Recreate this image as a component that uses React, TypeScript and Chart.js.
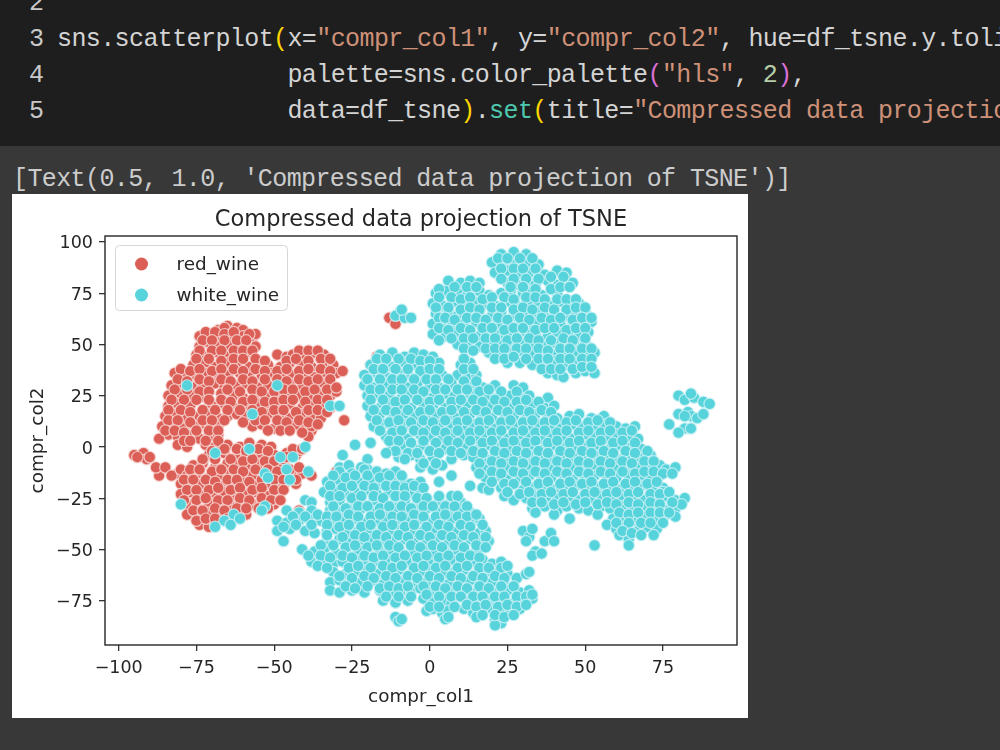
import React, { useEffect, useRef } from "react";
import { Chart, registerables } from "chart.js";

Chart.register(...registerables);

const chartTitle = "Compressed data projection of TSNE";
const xAxisLabel = "compr_col1";
const yAxisLabel = "compr_col2";
const seriesNames = ["red_wine", "white_wine"];
const xTicks = [-100, -75, -50, -25, 0, 25, 50, 75];
const yTicks = [-75, -50, -25, 0, 25, 50, 75, 100];

// x, y pairs
const redWinePairs = [
  -68,57,-65,59,-62,58,-66,58,-60,57,
  -74,54,-70,55,-67,53,-64,55,-60,54,-57,53,-56,55,
  -74,49,-71,51,-68,49,-65,50,-61,49,-58,51,-56,49,
  -75,45,-72,44,-68,46,-65,44,-61,45,-59,46,-49,45,-46,44,-44,45,-40,44,-37,46,-34,45,
  -76,40,-72,41,-69,39,-65,41,-62,40,-58,39,-55,41,-52,40,-48,39,-45,41,-41,40,-38,39,-34,41,-31,40,
  -82,36,-79,34,-75,35,-72,36,-68,34,-65,35,-61,36,-58,34,-54,35,-51,36,-47,34,-44,35,-40,36,-37,34,-33,35,-30,36,-28,37,
  -83,30,-80,31,-76,29,-73,30,-69,31,-66,29,-62,30,-59,31,-55,29,-52,30,-45,31,-41,29,-38,30,-34,31,-31,29,
  -84,25,-80,26,-76,25,-72,24,-67,26,-63,25,-60,24,-56,26,-53,25,-49,24,-46,26,-42,25,-39,24,-35,26,-32,25,-30,27,
  -84,20,-81,21,-77,20,-70,20,-66,21,-63,19,-59,20,-55,21,-52,19,-48,20,-45,21,-41,19,-38,20,-34,21,-32,19,
  -85,15,-82,16,-78,14,-74,15,-71,16,-68,14,-65,15,-62,16,-59,15,-55,14,-52,16,-48,15,-45,14,-41,16,-38,15,-35,14,
  -86,10,-83,11,-79,9,-75,10,-72,11,-68,10,-57,10,-54,11,-50,9,-47,10,-43,11,-40,9,-38,8,-38,10,-27.5,13,
  -84,6,-81,5,-78,6,-74,4,-71,5,-68,6,-39,5,-87,4,
  -81,1,-78,0,-72,1,-69,0,-65,1,-61,0,-58,2,-54,1,-51,0,
  -71,-4,-66,-3,-62,-5,-59,-4,-55,-3,-52,-5,-50,-4,-46,-3,-43,-4,-42,-2,
  -93,-4,-95,-4,-92,-3,-91,-6,-90,-5,-94,-5,
  -87,-14,-88,-10,-85,-10,-81,-13,-83,-14,-80,-11,
  -76,-9,-73,-8,-69,-10,-65,-8,-62,-9,-58,-10,-54,-8,-51,-9,-48,-10,-47,-8,
  -78,-14,-75,-13,-71,-15,-68,-14,-64,-13,-60,-15,-57,-14,-53,-14,-50,-13,-46,-15,-43,-14,-41,-13,-38,-14,
  -80,-18,-77,-19,-73,-18,-70,-17,-66,-19,-63,-18,-59,-17,-56,-19,-52,-18,-49,-17,-47,-19,-43,-18,
  -80,-23,-77,-22,-73,-24,-70,-23,-66,-22,-63,-24,-59,-23,-56,-22,-52,-24,-49,-23,-48,-22,
  -78,-28,-75,-29,-71,-27,-68,-28,-64,-29,-61,-27,-57,-28,-54,-27,-50,-28,
  -78,-33,-74,-34,-71,-32,-67,-33,-64,-34,-59,-33,
  -74,-38,-71,-39,-69,-37,
  -17,44,-19,40,11,43,-13,63,-11,60,-30,-12,-42,-31,
  -72,56,-69,56,-66,55,-63,56,-58,55,
  -73,52,-70,52,-66,52,-62,52,-59,52,
  -74,47,-70,47,-67,47,-63,47,-60,47,-57,47,-42,47,-39,47,-36,47,
  -75,43,-71,43,-67,42,-63,43,-60,43,-56,43,-53,42,-46,42,-43,43,-39,42,-35,43,-32,43,
  -80,38,-77,37,-74,38,-70,37,-67,38,-63,38,-60,37,-56,38,-53,37,-49,37,-46,38,-42,37,-39,38,-35,38,-32,37,
  -81,33,-78,32,-74,33,-71,32,-67,33,-64,32,-60,33,-57,32,-53,33,-49,33,-46,32,-42,33,-39,32,-36,33,-32,33,
  -82,28,-78,28,-74,27,-71,27,-65,28,-61,27,-57,28,-54,27,-50,27,-47,28,-44,28,-40,27,-37,28,-33,28,-30,29,
  -83,23,-79,23,-75,23,-71,23,-67,23,-64,22,-60,22,-57,23,-53,22,-50,22,-47,23,-44,23,-40,22,-36,23,-33,23,
  -84,18,-80,18,-77,17,-73,18,-69,18,-65,18,-61,18,-57,18,-54,17,-50,18,-47,18,-43,17,-39,18,-36,18,-33,17,
  -84,13,-81,13,-77,12,-73,13,-70,13,-66,13,-60,12,-56,13,-53,13,-49,13,-46,12,-42,13,-39,12,-36,11,
  -85,8,-82,8,-79,7,-75,8,-71,8,-68,8,-52,8,-48,8,-45,8,-41,7,
  -79,3,-77,3,-72,3,-68,3,
  -70,-2,-66,-1,-62,-1,-59,-2,-55,-1,-52,-2,-44,-1,-41,-1,
  -73,-6,-69,-6,-64,-6,-60,-7,-57,-6,-53,-7,-50,-7,-47,-6,-46,-5,
  -77,-11,-74,-11,-70,-12,-67,-11,-63,-11,-60,-12,-56,-11,-52,-11,-49,-12,-45,-11,-42,-10,
  -79,-16,-76,-16,-72,-16,-69,-17,-65,-16,-62,-16,-58,-17,-54,-16,-50,-16,-47,-16,-43,-16,
  -78,-21,-75,-21,-71,-21,-68,-20,-64,-21,-61,-20,-57,-21,-54,-20,-50,-21,-47,-21,
  -79,-26,-75,-26,-72,-25,-68,-26,-65,-26,-61,-25,-58,-26,-54,-25,-51,-26,-48,-26,
  -76,-31,-73,-31,-69,-30,-66,-31,-62,-30,-59,-30,-55,-30,-52,-30,
  -75,-36,-72,-35,-69,-35,-65,-35,
];

const whiteWineUpperPairs = [
  23,94,27,95,31,94,
  20,90,24,90,27,89,31,90,35,89,
  21,85,25,86,28,84,32,85,35,85,37,84,41,86,44,85,
  6,81,10,80,13,81,16,80,25,80,28,79,32,80,34,79,38,81,41,79,44,81,46,80,
  2,75,5,76,9,75,12,74,16,76,19,74,23,75,26,76,30,75,33,76,36,74,41,75,
  1,70,4,69,8,71,11,69,14,71,18,70,21,69,25,71,28,69,32,70,35,71,39,69,42,71,45,69,48,70,
  2,65,6,66,9,64,13,65,16,66,20,64,23,66,27,64,30,65,34,66,37,64,40,66,44,64,47,65,50,66,
  1,60,4,61,7,59,11,60,15,61,18,59,22,60,25,61,29,59,32,60,35,61,39,59,42,60,46,61,49,59,52,61,
  1,55,5,54,9,56,13,55,16,54,20,56,23,55,27,54,31,56,34,55,38,54,41,56,45,55,48,54,51,56,
  3,52,9,50,12,51,16,49,19,51,23,50,26,49,30,51,33,50,37,49,40,51,44,50,47,49,50,51,
  19,46,22,45,26,46,29,47,33,45,36,46,40,45,43,47,47,46,50,45,53,46,
  25,41,29,41,33,40,37,41,40,42,44,40,47,41,51,42,
  38,36,41,35,43,34,47,36,50,37,53,36,
  -9.5,66,-11,64,-8,63,-6,63,-9,67,
  80,25,82,23,85,24,88,22,90,21,84,26,80,16,83,17,84,15,86,14,88,16,77,11,82,9,80,7,84,9,82,15,
  22,92,25,92,29,92,33,92,
  23,87,27,87,30,87,34,87,
  23,82,27,82,31,82,35,82,39,83,43,83,
  3,77,8,78,12,78,15,78,26,78,30,78,34,77,39,77,42,78,45,78,
  3,73,7,73,10,72,13,73,17,72,20,73,24,73,27,72,31,73,34,73,37,72,41,72,44,72,47,72,
  2,68,6,68,10,67,13,68,16,67,20,68,23,68,27,67,30,68,33,67,37,68,40,67,44,67,47,68,50,68,
  3,63,5,63,8,62,12,63,15,63,18,62,22,63,25,62,29,63,32,62,36,63,39,62,42,63,46,62,49,63,52,63,
  3,58,6,57,10,58,13,57,17,58,20,58,24,57,27,58,30,58,34,57,37,58,40,58,44,57,47,58,50,58,
  7,53,11,53,14,53,18,53,21,53,25,52,28,53,32,53,35,52,39,52,43,53,46,52,50,53,
  11,48,14,47,18,48,21,48,24,48,28,48,31,48,35,48,38,47,42,48,45,48,49,48,52,48,
  21,43,24,43,27,44,31,43,35,43,38,43,42,43,45,43,49,43,52,43,
  36,38,39,38,42,38,46,38,49,39,52,39,
];

const whiteWineCentralPairs = [
  -16,45,-12,46,-8,44,-5,46,-2,45,1,44,
  -19,40,-15,41,-12,39,-8,41,-4,40,-1,39,3,41,10,40,13,41,
  -21,35,-17,36,-14,34,-10,36,-7,35,-3,34,1,36,4,35,9,35,12,34,15,35,
  -21,30,-18,29,-14,31,-11,30,-7,29,-4,31,0,30,3,29,7,31,14,30,17,29,21,30,27,30,30,29,
  -20,25,-17,26,-13,25,-9,24,-6,26,-2,25,1,24,5,26,8,25,12,24,15,26,19,25,22,24,26,25,29,24,32,25,38,24,
  -20,20,-16,19,-13,21,-9,20,-6,19,-2,21,1,20,5,19,9,20,12,21,16,19,19,20,23,21,26,19,30,20,33,21,37,19,40,20,
  -19,15,-16,16,-12,14,-8,16,-5,15,-1,14,2,16,6,15,9,14,13,16,17,15,20,14,24,16,27,15,31,14,34,16,38,15,41,14,45,15,48,16,52,14,56,15,
  -18,10,-15,11,-11,9,-8,11,-4,10,0,9,3,11,7,10,11,9,14,11,18,10,21,9,25,11,28,10,32,9,35,11,39,10,42,9,46,11,49,10,53,9,56,11,60,10,63,9,66,10,
  -14,5,-11,6,-7,4,-3,6,0,5,4,4,7,6,11,5,15,4,18,6,22,5,25,4,29,6,32,5,36,4,39,6,43,5,46,4,50,6,53,5,57,4,60,6,64,5,67,4,
  -12,0,-9,1,-5,-1,-2,1,2,0,5,-1,9,1,12,0,16,-1,19,1,23,0,26,-1,30,1,33,0,37,-1,40,1,44,0,47,-1,51,1,54,0,58,-1,61,1,65,0,68,-1,
  -10,-5,-6,-4,-3,-6,1,-5,7,-6,11,-4,14,-5,18,-6,21,-4,25,-5,28,-6,32,-4,35,-5,39,-6,42,-4,46,-5,49,-6,53,-4,56,-5,60,-6,63,-4,67,-5,71,-4,
  -3,-10,1,-11,4,-9,15,-10,18,-11,22,-9,25,-10,29,-11,32,-9,36,-10,39,-11,43,-9,46,-10,50,-11,53,-9,57,-10,60,-11,64,-9,67,-10,71,-11,74,-9,76,-11,79,-10,
  3,-17,7,-14,
  18,-15,22,-14,25,-16,29,-15,32,-14,36,-16,39,-15,43,-14,46,-16,50,-15,53,-14,57,-16,60,-15,64,-14,68,-16,71,-15,74,-14,
  13,-19,17,-20,19,-21,23,-20,26,-19,30,-21,33,-20,37,-19,40,-21,44,-20,47,-19,51,-21,54,-20,58,-19,61,-21,65,-20,68,-19,72,-21,75,-20,75,-22,
  24,-24,27,-26,31,-25,34,-24,38,-26,41,-25,45,-24,48,-26,52,-25,55,-24,59,-26,62,-25,66,-24,69,-26,72,-25,76,-24,79,-26,82,-25,
  33,-30,37,-29,41,-31,44,-29,48,-30,51,-31,55,-29,58,-30,62,-29,65,-31,69,-30,72,-29,76,-31,79,-30,81,-28,
  34,-32,40,-33,45,-35,54,-33,59,-35,62,-34,66,-36,69,-34,73,-35,76,-33,79,-34,
  57,-38,60,-40,63,-39,67,-41,70,-39,73,-40,
  61,-43,64,-45,64,-48,53,-48,72,-43,
  -17,43,-14,43,-10,43,-6,43,-3,42,0,42,11,43,
  -18,38,-15,38,-11,38,-7,38,-3,37,0,38,3,38,11,38,14,38,
  -20,33,-16,33,-12,33,-9,33,-5,33,-1,33,2,33,6,33,11,32,15,32,
  -19,28,-16,28,-12,28,-9,28,-5,28,-2,27,2,28,5,28,9,28,12,28,16,27,19,28,23,27,28,27,
  -19,23,-15,23,-11,22,-8,23,-4,23,0,22,3,23,7,22,10,23,14,23,17,22,21,23,24,22,28,22,31,23,35,22,
  -18,18,-14,18,-11,17,-7,18,-3,17,0,18,4,17,7,18,11,17,15,18,18,17,22,18,25,17,29,18,32,17,36,18,39,17,
  -17,13,-13,12,-10,13,-6,12,-2,13,1,12,5,13,9,12,12,13,16,12,19,13,23,12,26,13,30,12,33,13,37,12,40,13,44,12,47,13,51,12,54,13,58,12,
  -16,8,-12,7,-9,8,-5,8,-2,7,2,8,5,7,9,8,13,7,16,8,20,7,23,8,27,7,30,8,34,7,37,8,41,7,44,8,48,7,51,8,55,7,58,8,62,7,65,8,
  -13,3,-10,3,-6,2,-2,3,2,2,6,3,9,2,13,3,17,2,20,3,24,2,27,3,31,2,34,3,38,2,41,3,45,2,48,3,52,2,55,3,59,2,62,3,66,2,
  -11,-2,-7,-3,-4,-3,0,-2,3,-3,7,-2,10,-3,14,-2,17,-3,21,-2,24,-3,28,-2,31,-3,35,-2,38,-3,42,-2,45,-3,49,-2,52,-3,56,-2,59,-3,63,-2,66,-3,70,-2,
  -2,-8,2,-8,16,-8,20,-7,23,-8,27,-7,30,-8,34,-7,37,-8,41,-7,44,-8,48,-7,51,-8,55,-7,58,-8,62,-7,65,-8,69,-7,72,-7,
  16,-13,20,-12,23,-13,27,-12,30,-13,34,-12,37,-13,41,-12,44,-13,48,-12,51,-13,55,-12,58,-13,62,-12,66,-13,69,-12,72,-12,75,-13,78,-13,
  20,-17,24,-18,27,-18,31,-17,35,-18,38,-17,42,-18,45,-17,49,-18,52,-17,56,-18,59,-17,63,-18,66,-17,70,-18,73,-17,
  25,-22,29,-23,32,-22,36,-23,39,-22,43,-23,46,-22,50,-23,53,-22,57,-23,60,-22,64,-23,67,-22,71,-23,74,-23,77,-22,
  33,-27,36,-27,40,-28,43,-27,47,-28,50,-27,54,-28,57,-27,60,-28,64,-27,67,-28,71,-27,74,-28,78,-27,
  61,-32,64,-33,67,-32,71,-32,74,-32,77,-32,60,-37,64,-37,68,-37,71,-37,75,-37,62,-41,65,-42,68,-43,
];

const whiteWineLowerPairs = [
  -24,1,-19,2,-14,-3,-28,-4,-20,-6,-8,-6,
  -29,-10,-26,-9,-22,-10,-20,-11,
  -29,-12,-25,-13,-21,-11,-17,-12,-14,-13,-11,-12,
  -33,-17,-30,-16,-26,-18,-23,-17,-19,-16,-16,-18,-12,-17,-9,-16,-6,-18,-3,-17,
  -34,-22,-31,-21,-27,-23,-24,-22,-20,-21,-17,-23,-13,-22,-10,-21,-6,-23,-3,-22,
  -40,-26,-38,-27,-32,-27,-29,-26,-25,-28,-22,-27,-18,-26,-15,-28,-11,-27,-8,-26,-4,-28,-1,-27,3,-26,6,-28,10,-27,
  -46,-31,-42,-32,-38,-31,-32,-31,-29,-32,-25,-31,-22,-30,-18,-32,-15,-31,-11,-30,-8,-32,-4,-31,-1,-30,3,-32,6,-31,10,-30,13,-32,
  -49,-36,-46,-37,-42,-36,-39,-35,-35,-36,-31,-37,-28,-36,-24,-35,-21,-37,-17,-36,-14,-35,-10,-37,-7,-36,-3,-35,0,-37,4,-36,7,-35,11,-37,14,-36,16,-35,
  -49,-41,-45,-40,-40,-41,-37,-42,-33,-41,-30,-40,-26,-42,-23,-41,-19,-40,-16,-42,-12,-41,-9,-40,-5,-42,-2,-41,2,-40,5,-42,9,-41,12,-40,16,-42,18,-41,
  -47,-46,-33,-46,-29,-45,-26,-47,-22,-46,-19,-45,-15,-47,-12,-46,-8,-45,-5,-47,-1,-46,2,-45,6,-47,9,-46,13,-45,16,-47,19,-46,
  -41,-50,-37,-51,-34,-50,-30,-52,-27,-51,-23,-50,-20,-52,-16,-51,-13,-50,-9,-52,-6,-51,-2,-50,1,-52,5,-51,8,-50,12,-52,15,-51,
  -38,-56,-35,-55,-31,-57,-28,-56,-24,-55,-21,-57,-18,-56,-14,-55,-11,-57,-7,-56,-4,-55,0,-57,3,-56,7,-55,10,-57,14,-56,17,-55,20,-57,23,-56,
  -31,-61,-27,-62,-24,-61,-20,-60,-17,-62,-13,-61,-10,-60,-6,-62,-3,-61,1,-60,4,-62,8,-61,11,-60,15,-62,18,-61,22,-60,25,-62,28,-64,31,-62,32,-61,
  -32,-66,-29,-65,-25,-67,-22,-66,-18,-65,-15,-67,-11,-66,-8,-65,-4,-67,-1,-66,3,-65,6,-67,10,-66,13,-65,17,-67,20,-66,24,-65,
  -32,-70,-29,-71,-25,-70,-21,-71,-16,-70,-13,-71,-9,-70,-6,-71,-3,-69,0,-71,4,-70,8,-71,11,-70,15,-71,18,-70,22,-71,25,-70,29,-71,32,-70,
  -15,-75,-11,-76,-7,-75,-2,-74,1,-76,5,-75,7,-76,13,-75,16,-76,20,-75,23,-74,27,-76,30,-75,33,-74,
  -1,-80,1,-79,4,-81,6,-80,11,-79,14,-81,17,-80,20,-79,23,-81,26,-80,29,-79,
  -11,-83,-10,-85,-9,-84,5,-84,6,-83,21,-84,22,-85,23,-86,21,-87,
  30,-41,32,-44,33,-40,37,-46,39,-42,40,-46,34,-51,33,-53,36,-52,31,-46,
  -78,30,-49,30,-57,16,-69,-3,-58,-1,-40,0,-48,-5,-44,-5,-46,-11,-53,-13,-52,-15,-45,-16,-39,-12,
  -80,-28,-53,-29,-54,-31,-63,-33,-66,-36,-64,-38,-69,-39,-61,-35,-32,20,-29,20,
  -31,-14,-27,-15,-24,-14,-20,-14,-16,-15,-13,-14,-9,-14,
  -32,-19,-28,-20,-25,-19,-21,-19,-18,-20,-14,-19,-11,-19,-8,-20,-5,-19,-2,-20,
  -32,-24,-29,-24,-25,-25,-22,-24,-18,-24,-15,-25,-11,-24,-8,-24,-4,-25,-1,-25,3,-24,7,-24,9,-24,
  -31,-29,-27,-30,-23,-29,-20,-29,-16,-30,-13,-29,-9,-29,-6,-30,-2,-29,1,-29,5,-29,8,-29,12,-29,
  -44,-34,-40,-34,-36,-33,-33,-34,-30,-34,-26,-33,-23,-34,-19,-34,-16,-33,-12,-34,-9,-34,-5,-33,-2,-34,2,-34,5,-33,9,-34,12,-34,15,-33,
  -47,-39,-43,-38,-38,-38,-33,-38,-29,-39,-26,-38,-22,-39,-19,-38,-15,-39,-12,-38,-8,-39,-5,-38,-1,-39,3,-38,6,-39,10,-38,13,-39,17,-38,
  -33,-43,-28,-44,-24,-43,-21,-44,-17,-43,-14,-44,-10,-43,-7,-44,-3,-43,0,-44,4,-43,7,-44,11,-43,14,-44,18,-44,
  -35,-48,-31,-48,-27,-49,-24,-48,-20,-49,-17,-48,-13,-48,-10,-49,-6,-48,-3,-49,1,-48,4,-49,8,-48,11,-49,15,-48,18,-49,
  -39,-53,-35,-53,-32,-54,-28,-53,-25,-54,-21,-53,-18,-54,-15,-53,-11,-54,-8,-53,-4,-54,-1,-53,3,-54,6,-53,10,-54,13,-53,16,-54,
  -36,-58,-33,-59,-26,-59,-23,-58,-19,-59,-15,-58,-12,-59,-9,-58,-5,-59,-2,-58,2,-59,5,-58,9,-59,12,-58,16,-59,19,-59,23,-59,25,-58,
  -29,-63,-25,-64,-21,-63,-18,-64,-14,-63,-11,-64,-7,-63,-4,-64,0,-63,3,-64,7,-63,10,-64,14,-63,17,-64,21,-63,24,-64,
  -27,-68,-24,-69,-20,-68,-16,-69,-13,-68,-10,-69,-7,-68,-2,-68,2,-68,5,-69,9,-68,12,-69,16,-68,19,-69,23,-68,27,-68,
  -14,-73,-10,-73,-6,-73,-1,-72,3,-73,7,-73,10,-73,14,-73,17,-73,21,-73,24,-73,28,-73,31,-73,33,-72,
  0,-78,3,-78,8,-78,12,-77,15,-78,18,-77,22,-78,25,-77,28,-78,31,-77,
  15,-83,17,-82,21,-82,24,-83,27,-82,
];

const toPoints = (pairs: number[]) => {
  const out: { x: number; y: number }[] = [];
  for (let i = 0; i < pairs.length; i += 2) out.push({ x: pairs[i], y: pairs[i + 1] });
  return out;
};

const RED = "#db5f57";
const CYAN = "#57d3db";
const INK = "#262626";
const FONT = "'DejaVu Sans', sans-serif";

const framePlugin = {
  id: "frameAndKey",
  afterDatasetsDraw(chart: any) {
    const { ctx, chartArea: a } = chart;
    ctx.save();
    ctx.strokeStyle = INK;
    ctx.lineWidth = 1.4;
    ctx.strokeRect(a.left, a.top, a.right - a.left, a.bottom - a.top);
    const left = a.left + 10.5, top = a.top + 9.5, w = 172, h = 65;
    ctx.beginPath();
    ctx.roundRect(left, top, w, h, 4);
    ctx.fillStyle = "rgba(255,255,255,0.8)";
    ctx.fill();
    ctx.strokeStyle = "#d6d6d6";
    ctx.lineWidth = 1;
    ctx.stroke();
    ctx.textBaseline = "middle";
    ctx.textAlign = "left";
    ctx.font = `18.4px ${FONT}`;
    chart.data.datasets.forEach((d: any, i: number) => {
      const cy = top + 18.5 + i * 31;
      ctx.beginPath();
      ctx.arc(left + 26, cy, 6.5, 0, Math.PI * 2);
      ctx.fillStyle = d.backgroundColor;
      ctx.fill();
      ctx.fillStyle = INK;
      ctx.fillText(d.label, left + 61, cy + 1.5);
    });
    ctx.restore();
  },
};

const Y = "#ffd700", P = "#da70d6", S = "#ce9178", D = "#d4d4d4", N = "#b5cea8", T = "#4ec9b0";
const codeLines: { top: number; num: string; parts: [string, string][] }[] = [
  { top: -14, num: "2", parts: [] },
  { top: 22, num: "3", parts: [["sns.scatterplot", D], ["(", Y], ["x=", D], ['"compr_col1"', S], [", y=", D], ['"compr_col2"', S], [", hue=df_tsne.y.tolist(),", D]] },
  { top: 58, num: "4", parts: [["                ", D], ["palette=sns.color_palette", D], ["(", P], ['"hls"', S], [", ", D], ["2", N], [")", P], [",", D]] },
  { top: 94, num: "5", parts: [["                ", D], ["data=df_tsne", D], [")", Y], [".", D], ["set", T], ["(", Y], ["title=", D], ['"Compressed data projection of TSNE"', S], [")", Y]] },
];
const outputText = "[Text(0.5, 1.0, 'Compressed data projection of TSNE')]";
const mono: React.CSSProperties = {
  position: "absolute",
  fontFamily: "'Liberation Mono', monospace",
  fontSize: 25,
  letterSpacing: "-0.6px",
  lineHeight: "36px",
  whiteSpace: "pre",
};

export default function App() {
  const ref = useRef<HTMLCanvasElement>(null);
  useEffect(() => {
    const axisTicks = (values: number[]) => (s: any) => {
      s.ticks = values.map((value) => ({ value }));
    };
    const tickBase = {
      autoSkip: false,
      maxRotation: 0,
      color: INK,
      font: { family: FONT, size: 17.5 },
      callback: (v: any) => String(v).replace("-", "\u2212"),
    };
    const grid = { drawOnChartArea: false, tickLength: 6, color: "#333333", lineWidth: 1.3 };
    const axisFont = { family: FONT, size: 18.4 };
    const chart = new Chart(ref.current!, {
      type: "scatter",
      data: {
        datasets: [
          {
            label: seriesNames[0],
            data: toPoints(redWinePairs),
            backgroundColor: RED,
            borderColor: "rgba(247,214,210,0.85)",
            borderWidth: 1.2,
            pointRadius: 5.7,
            order: 2,
          },
          {
            label: seriesNames[1],
            data: toPoints([...whiteWineUpperPairs, ...whiteWineCentralPairs, ...whiteWineLowerPairs]),
            backgroundColor: CYAN,
            borderColor: "rgba(205,241,244,0.85)",
            borderWidth: 1.2,
            pointRadius: 5.7,
            order: 1,
          },
        ],
      },
      options: {
        animation: false,
        responsive: false,
        layout: { padding: { left: 0, right: 11, top: 0, bottom: 0 } },
        plugins: {
          legend: { display: false },
          tooltip: { enabled: false },
          title: {
            display: true,
            fullSize: false,
            text: chartTitle,
            color: INK,
            font: { family: FONT, size: 22.5, weight: "normal" },
            padding: { top: 13, bottom: 2 },
          },
        },
        scales: {
          x: {
            type: "linear",
            min: -104.4,
            max: 98.8,
            afterBuildTicks: axisTicks(xTicks),
            afterFit: (s: any) => { s.height = 73; },
            ticks: { ...tickBase, padding: 7 },
            grid,
            border: { display: false },
            title: { display: true, text: xAxisLabel, color: INK, font: axisFont, padding: { top: 0, bottom: 10 } },
          },
          y: {
            type: "linear",
            min: -96.6,
            max: 102.9,
            afterBuildTicks: axisTicks(yTicks),
            afterFit: (s: any) => { s.width = 93; },
            ticks: { ...tickBase, padding: 6, labelOffset: 2 },
            grid,
            border: { display: false },
            title: { display: true, text: yAxisLabel, color: INK, font: axisFont, padding: { top: 15, bottom: 0 } },
          },
        },
      },
      plugins: [framePlugin],
    } as any);
    return () => chart.destroy();
  }, []);

  return (
    <div style={{ position: "fixed", left: 0, top: 0, width: 1000, height: 750, background: "#383838", overflow: "hidden" }}>
      <div style={{ position: "absolute", left: 0, top: 0, width: 1000, height: 146, background: "#1e1e1e", overflow: "hidden" }}>
        {codeLines.map((l) => (
          <React.Fragment key={l.num}>
            <div style={{ ...mono, left: 29, top: l.top, color: "#c8c8c8" }}>{l.num}</div>
            <div style={{ ...mono, left: 57, top: l.top }}>
              {l.parts.map(([t, c], i) => (
                <span key={i} style={{ color: c }}>{t}</span>
              ))}
            </div>
          </React.Fragment>
        ))}
      </div>
      <div style={{ ...mono, left: 13, top: 162, color: "#cccccc" }}>{outputText}</div>
      <canvas
        ref={ref}
        width={736}
        height={524}
        style={{ position: "absolute", left: 12, top: 194, width: 736, height: 524, background: "#ffffff", filter: "blur(0.4px)" }}
      />
    </div>
  );
}
